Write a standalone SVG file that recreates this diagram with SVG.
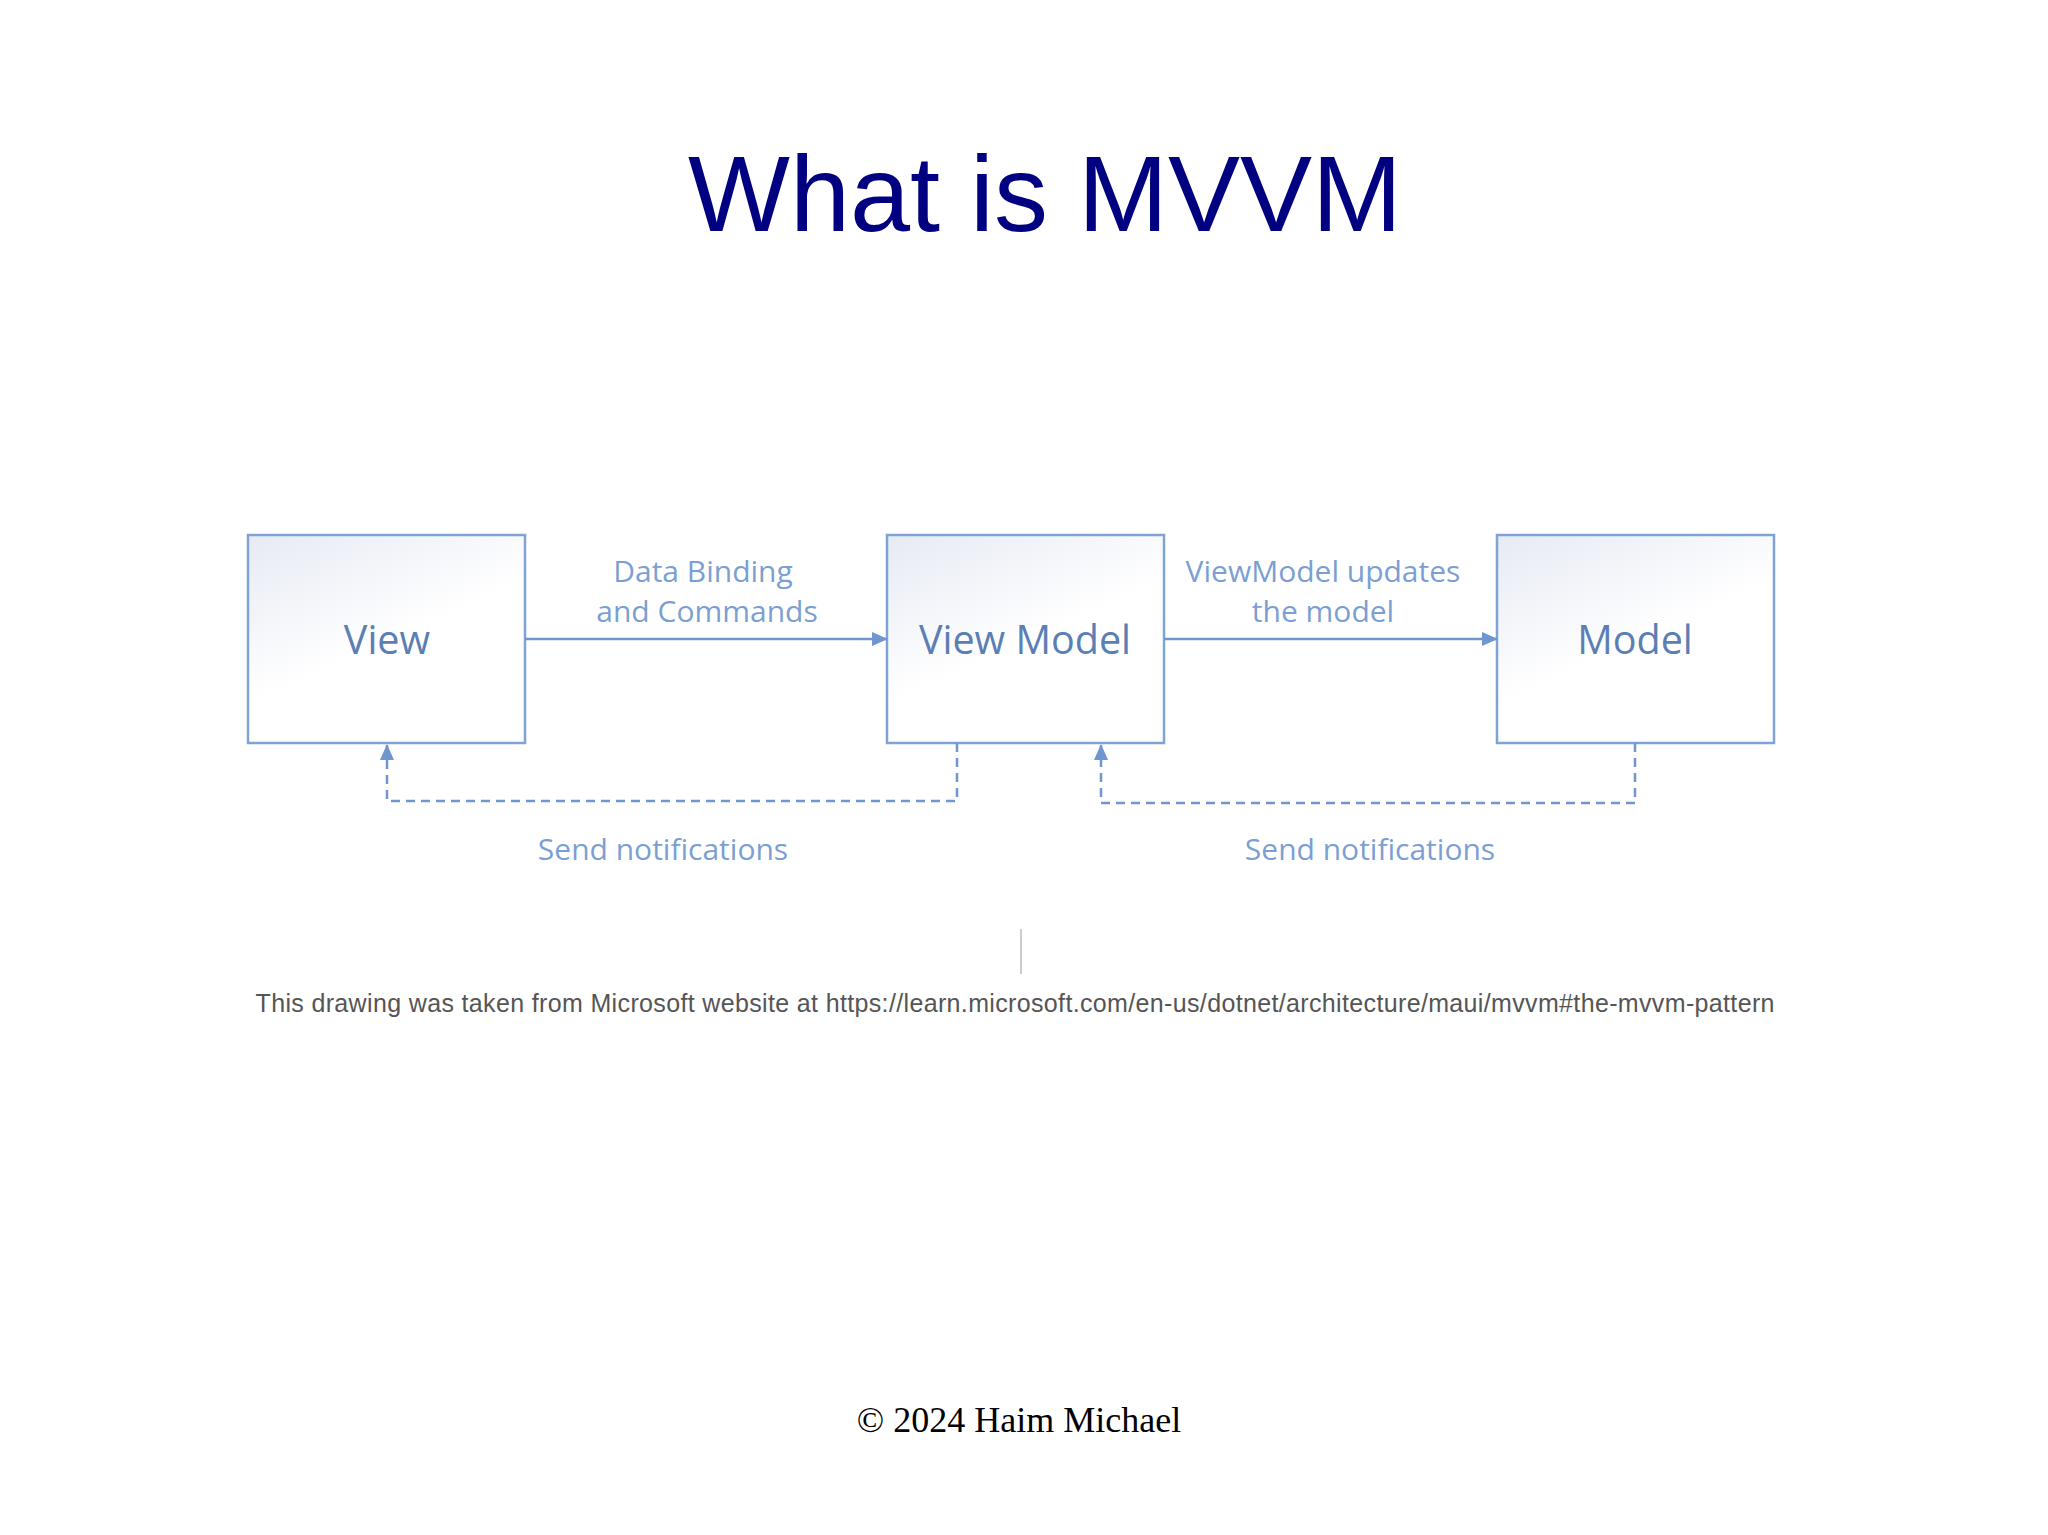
<svg xmlns="http://www.w3.org/2000/svg" width="2048" height="1535" viewBox="0 0 2048 1535">
<style>
.box{stroke:#7fa3d4;stroke-width:2.5;fill:url(#g)}
.bl{font-family:"Open Sans",sans-serif;font-size:39.5px;fill:#5b7fb4;text-anchor:middle}
.lb{font-family:"Open Sans",sans-serif;font-size:30px;fill:#7b9fd2;text-anchor:middle}
.ln{stroke:#6f96cf;stroke-width:2.5;fill:none}
.ds{stroke-dasharray:9 6}
</style>
<defs>
<linearGradient id="g" x1="0" y1="0" x2="0.6" y2="1"><stop offset="0" stop-color="#e6eaf4"/><stop offset="0.6" stop-color="#ffffff"/></linearGradient>
<marker id="b" markerWidth="16" markerHeight="16" refX="15" refY="8" orient="auto" markerUnits="userSpaceOnUse" viewBox="0 0 16 16"><path d="M0,1L16,8L0,15z" fill="#6f96cf"/></marker>
</defs>
<rect width="2048" height="1535" fill="#fff"/>
<text x="1045" y="231" font-family="Liberation Sans,sans-serif" font-size="108" fill="#000080" text-anchor="middle">What is MVVM</text>
<g id="view"><rect class="box" x="248" y="535" width="277" height="208"/><text class="bl" x="387" y="654">View</text></g>
<g id="viewmodel"><rect class="box" x="887" y="535" width="277" height="208"/><text class="bl" x="1025" y="654">View Model</text></g>
<g id="model"><rect class="box" x="1497" y="535" width="277" height="208"/><text class="bl" x="1635" y="654">Model</text></g>
<g id="connectors">
<line class="ln" x1="525" y1="639" x2="887" y2="639" marker-end="url(#b)"/>
<line class="ln" x1="1164" y1="639" x2="1497" y2="639" marker-end="url(#b)"/>
<polyline class="ln ds" points="957,743 957,801 387,801 387,745" marker-end="url(#b)"/>
<polyline class="ln ds" points="1635,743 1635,803 1101,803 1101,745" marker-end="url(#b)"/>
</g>
<text class="lb" x="703" y="582">Data Binding</text>
<text class="lb" x="707" y="622">and Commands</text>
<text class="lb" x="1323" y="582">ViewModel updates</text>
<text class="lb" x="1323" y="622">the model</text>
<text class="lb" x="663" y="860">Send notifications</text>
<text class="lb" x="1370" y="860">Send notifications</text>
<line x1="1021" y1="929" x2="1021" y2="974" stroke="#bbb" stroke-width="1.5"/>
<text x="1015" y="1012" font-family="Liberation Sans,sans-serif" font-size="25" fill="#555" text-anchor="middle" textLength="1519">This drawing was taken from Microsoft website at https://learn.microsoft.com/en-us/dotnet/architecture/maui/mvvm#the-mvvm-pattern</text>
<text x="1019" y="1432" font-family="Liberation Serif,serif" font-size="36" fill="#000" text-anchor="middle">© 2024 Haim Michael</text>
</svg>
